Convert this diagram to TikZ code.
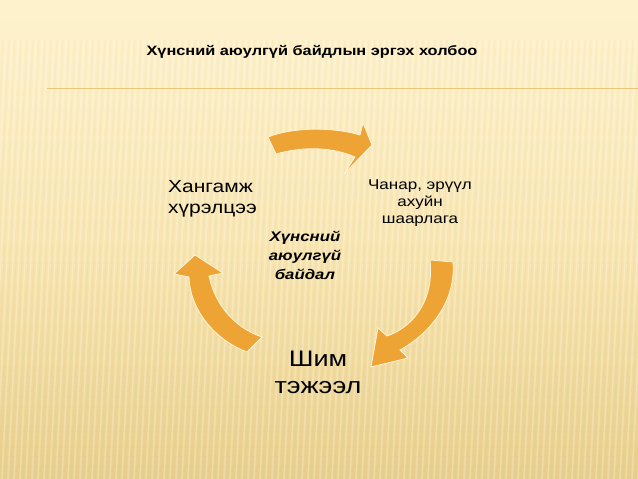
\documentclass[tikz,border=0pt]{standalone}
\usepackage{fontspec}
\setmainfont{Liberation Sans}[FakeStretch=1.2]
\definecolor{bgtop}{RGB}{254,242,206}
\definecolor{bgmid}{RGB}{248,230,178}
\definecolor{bgbot}{RGB}{232,206,138}
\definecolor{arrowfill}{RGB}{238,164,52}
\definecolor{arrowedge}{RGB}{255,246,220}
\definecolor{rulecol}{RGB}{229,198,122}
\tikzset{
  cyclearrow/.style={fill=arrowfill, draw=arrowedge, line width=0.8pt, line join=miter},
  stripe/.style={white, opacity=0.25, line width=1.6pt},
  darkstripe/.style={rulecol, opacity=0.12, line width=1pt},
  txt/.style={inner sep=0pt, text=black},
}
\begin{document}
\begin{tikzpicture}[x=1pt,y=-1pt]
\useasboundingbox (0,0) rectangle (638,479);
% background
\shade[top color=bgtop, bottom color=bgbot, middle color=bgmid] (0,0) rectangle (638,479);
\begin{scope}
\clip (0,0) rectangle (638,479);
\foreach \x in {0,6,...,700} \draw[stripe] (\x,40) -- (\x-22,479);
\foreach \x in {3,9,...,703} \draw[darkstripe] (\x,40) -- (\x-22,479);
\end{scope}
% title rule
\coordinate (ruleA) at (47,88);
\coordinate (ruleB) at (638,88);
\draw[rulecol, line width=0.7pt] (ruleA) -- (ruleB);
% title
\node[txt, font=\bfseries\fontsize{13.6}{16}\selectfont] (title) at (312,52) {Хүнсний аюулгүй байдлын эргэх холбоо};
% top arrow
\draw[cyclearrow] (268,137) .. controls (290,128) and (330,126) .. (360,135)
  -- (363,123) -- (372,145) -- (344,174) -- (355,157)
  .. controls (330,146) and (300,147) .. (276,154) -- cycle;
% right arrow
\draw[cyclearrow] (430,260) -- (453,262)
  .. controls (456,300) and (432,332) .. (400,350)
  -- (408,358) -- (371,367) -- (378,328) -- (387,336)
  .. controls (418,325) and (434,295) .. (430,260) -- cycle;
% left arrow
\draw[cyclearrow] (195,255) -- (223,273) -- (209,276)
  .. controls (215,305) and (235,328) .. (262,337)
  -- (247,352)
  .. controls (215,340) and (190,310) .. (189,277)
  -- (174,274) -- cycle;
% texts
\node[txt, align=left, anchor=west, font=\fontsize{17.5}{21.5}\selectfont] (supply) at (168,199) {Хангамж\\хүрэлцээ};
\node[txt, align=center, font=\fontsize{14.2}{17}\selectfont] (quality) at (420,203) {Чанар, эрүүл\\ахуйн\\шаарлага};
\node[txt, align=center, font=\bfseries\itshape\fontsize{14}{19}\selectfont] (center) at (305,255) {Хүнсний\\аюулгүй\\байдал};
\node[txt, align=center, font=\fontsize{22.5}{27}\selectfont] (nutri) at (318,372) {Шим\\тэжээл};
\end{tikzpicture}
\end{document}
